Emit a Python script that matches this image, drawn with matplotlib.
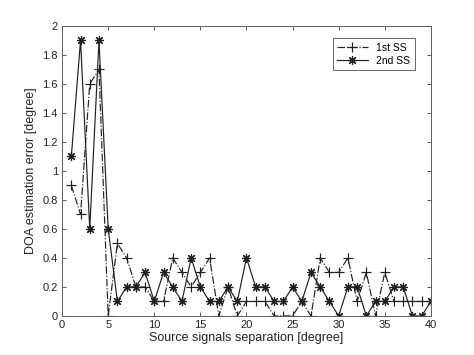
import numpy as np
import matplotlib
matplotlib.use('Agg')
import matplotlib.pyplot as plt

plt.rcParams['font.family'] = ['Liberation Sans', 'DejaVu Sans']

# source separation [degree]
sep = list(range(1, 41))
# DOA estimation error [degree]
err_1st = [0.9, 0.7, 1.6, 1.7, 0.0, 0.5, 0.4, 0.2, 0.2, 0.1,
           0.1, 0.4, 0.3, 0.2, 0.3, 0.4, 0.0, 0.2, 0.0, 0.1,
           0.1, 0.1, 0.0, 0.0, 0.0, 0.1, 0.0, 0.4, 0.3, 0.3,
           0.4, 0.1, 0.3, 0.0, 0.3, 0.1, 0.1, 0.1, 0.1, 0.1]
err_2nd = [1.1, 1.9, 0.6, 1.9, 0.6, 0.1, 0.2, 0.2, 0.3, 0.1,
           0.3, 0.2, 0.1, 0.4, 0.2, 0.1, 0.1, 0.2, 0.1, 0.4,
           0.2, 0.2, 0.1, 0.1, 0.2, 0.1, 0.3, 0.2, 0.1, 0.0,
           0.2, 0.2, 0.0, 0.1, 0.1, 0.2, 0.2, 0.0, 0.0, 0.1]

fig = plt.figure(figsize=(4.74, 3.55), dpi=100)
ax = fig.add_axes([0.131, 0.110, 0.778, 0.817])

col = '#202020'
ax.plot(sep, err_1st, linestyle='-.', marker='+', color=col, lw=0.85,
        markersize=6.5, markeredgewidth=0.85, label='1st SS')
ax.plot(sep, err_2nd, linestyle='-', marker=(8, 2, 0), color=col, lw=0.85,
        markersize=6.5, markeredgewidth=0.85, label='2nd SS')

ax.set_xlim(0, 40)
ax.set_ylim(0, 2)
ax.set_xticks(np.arange(0, 41, 5))
ax.set_yticks(np.arange(0, 2.01, 0.2))
ax.set_yticklabels(['0', '0.2', '0.4', '0.6', '0.8', '1', '1.2', '1.4', '1.6', '1.8', '2'])
ax.tick_params(direction='in', top=True, right=True, length=3, width=0.6,
               labelsize=8, colors='#404040', labelcolor='#222222', pad=3)
for s in ax.spines.values():
    s.set_color('#606060')
    s.set_linewidth(0.7)

ax.set_xlabel('Source signals separation [degree]', fontsize=9, labelpad=1, color='#222222')
ax.set_ylabel('DOA estimation error [degree]', fontsize=9, labelpad=4, color='#222222')

leg = ax.legend(loc='upper right', fontsize=7.5, frameon=True, fancybox=False,
                edgecolor='#404040', handlelength=3, borderpad=0.4,
                labelspacing=0.3, bbox_to_anchor=(0.97, 0.975))
leg.get_frame().set_linewidth(0.7)

fig.savefig('out.png', dpi=100)
